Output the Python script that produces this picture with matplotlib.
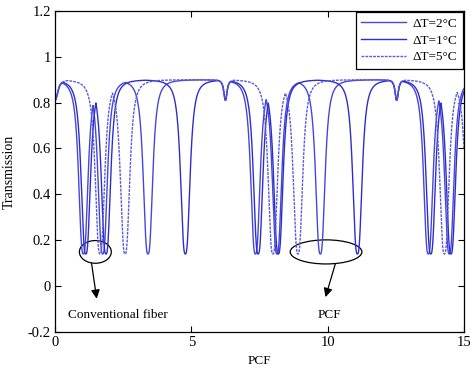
import numpy as np
import matplotlib
matplotlib.use("Agg")
import matplotlib.pyplot as plt
from matplotlib.patches import Ellipse

plt.rcParams['font.family'] = ['Liberation Serif', 'DejaVu Serif']
plt.rcParams['mathtext.fontset'] = 'stix'

# ---- data ----
labels = ["\u0394T=2\u00b0C", "\u0394T=1\u00b0C", "\u0394T=5\u00b0C"]
dips_dT2 = [1.04, 1.75, 3.41, 7.35, 8.14, 9.73, 13.69, 14.46]
dips_dT1 = [1.13, 1.87, 4.78, 7.45, 8.19, 11.09, 13.78, 14.52]
dips_dT5 = [1.65, 2.57, 7.99, 8.91, 14.28, 15.22]
shallow_dips = [0.0, 6.25, 12.53]
shallow_widths = [0.12, 0.07, 0.07]
top_level = 0.90
deep_min = 0.14
shallow_min = 0.81

xticks = [0, 5, 10, 15]
yticks = [-0.2, 0, 0.2, 0.4, 0.6, 0.8, 1.0, 1.2]
ytick_labels = ["-0.2", "0", "0.2", "0.4", "0.6", "0.8", "1", "1.2"]

x = np.linspace(0, 15, 6000)

def profile(xx, c, w, q):
    return 1.0 / (1.0 + np.abs((xx - c) / w) ** q)

def spectrum(dips):
    depth = np.zeros_like(x)
    for c in dips:
        depth = np.maximum(depth, (top_level - deep_min) * profile(x, c, 0.19, 2.8))
    for c, w in zip(shallow_dips, shallow_widths):
        depth = np.maximum(depth, (top_level - shallow_min) * profile(x, c, w, 2.3))
    return top_level - depth

fig = plt.figure(figsize=(4.74, 3.73), dpi=100)
ax = fig.add_axes([0.116, 0.110, 0.863, 0.861])

ax.plot(x, spectrum(dips_dT2), color='#4646dc', lw=1.0, label=labels[0])
ax.plot(x, spectrum(dips_dT1), color='#2e2ecc', lw=1.0, label=labels[1])
ax.plot(x, spectrum(dips_dT5), color='#5a5ae0', lw=1.0, ls=(0, (2.0, 0.8)), label=labels[2])

ax.set_xlim(0, 15)
ax.set_ylim(-0.2, 1.2)
ax.set_xticks(xticks)
ax.set_yticks(yticks)
ax.set_yticklabels(ytick_labels)
ax.tick_params(direction='in', top=True, right=True, length=4, width=0.8,
               labelsize=10.5, pad=3)
for s in ax.spines.values():
    s.set_linewidth(0.9)

ax.set_xlabel("PCF", fontsize=9.5, labelpad=4)
ax.set_ylabel("Transmission", fontsize=10, labelpad=9)

# annotations
ax.add_patch(Ellipse((1.48, 0.149), 1.17, 0.099, fill=False, ec='black', lw=0.9))
ax.add_patch(Ellipse((9.94, 0.149), 2.63, 0.105, fill=False, ec='black', lw=0.9))
ax.annotate("", xy=(1.53, -0.055), xytext=(1.34, 0.100),
            arrowprops=dict(arrowstyle='-|>', color='black', lw=0.9, mutation_scale=13,
                            shrinkA=0, shrinkB=0))
ax.annotate("", xy=(9.92, -0.048), xytext=(10.28, 0.097),
            arrowprops=dict(arrowstyle='-|>', color='black', lw=0.9, mutation_scale=13,
                            shrinkA=0, shrinkB=0))
ax.text(0.48, -0.126, "Conventional fiber", fontsize=9.5, ha='left', va='center')
ax.text(10.08, -0.126, "PCF", fontsize=9.5, ha='center', va='center')

leg = ax.legend(loc='upper right', fontsize=9.5, frameon=True, fancybox=False,
                edgecolor='black', framealpha=1, borderaxespad=0.1,
                handlelength=3.4, handletextpad=0.5, labelspacing=0.35,
                borderpad=0.4)
leg.get_frame().set_linewidth(0.9)

fig.savefig("out.png", dpi=100)
